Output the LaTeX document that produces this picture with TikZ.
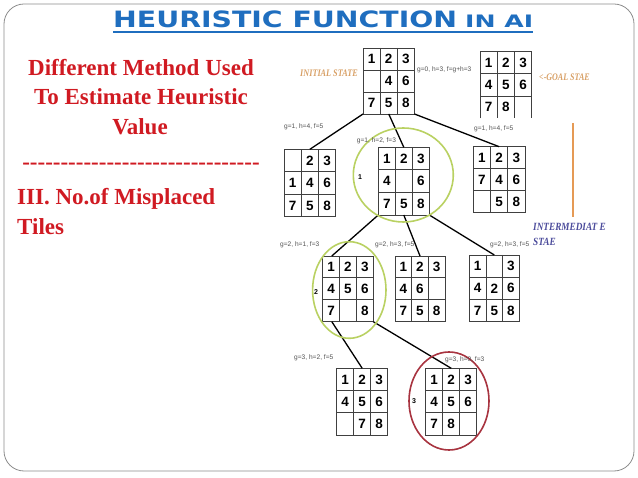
\documentclass[tikz,border=0pt]{standalone}
\usepackage{fontspec}
\usepackage{graphicx}
\setmainfont{Liberation Serif}
\newfontfamily\sansf{Liberation Sans}
\newfontfamily\titlef{DejaVu Sans}
\usetikzlibrary{calc}
\definecolor{titleblue}{HTML}{1F6EBF}
\definecolor{textred}{HTML}{D01A22}
\definecolor{labelgray}{HTML}{505050}
\definecolor{gridgray}{HTML}{404040}
\definecolor{tanlabel}{HTML}{D8A066}
\definecolor{navylabel}{HTML}{4B4B9B}
\definecolor{greenring}{HTML}{B9D162}
\definecolor{redring}{HTML}{A83440}
\definecolor{orangeline}{HTML}{E59A55}
\definecolor{framegray}{HTML}{8C8C8C}
\tikzset{
  gridbox/.style={draw=gridgray, line width=0.9pt, inner sep=0pt, outer sep=0pt},
  goalbox/.style={inner sep=0pt, outer sep=0pt},
  gridline/.style={draw=gridgray, line width=0.9pt},
  digit/.style={font=\sansf\bfseries\fontsize{13.5}{14}\selectfont, inner sep=0pt},
  costlabel/.style={font=\sansf\fontsize{6.6}{7}\selectfont, text=labelgray, inner sep=0pt, anchor=west},
  steplabel/.style={font=\sansf\bfseries\fontsize{7}{8}\selectfont, inner sep=0pt},
  bigred/.style={font=\bfseries\fontsize{23}{26}\selectfont, text=textred, inner sep=0pt},
  conn/.style={draw=black, line width=1.3pt},
  ring/.style={line width=1.6pt},
}
\def\blankcell{0}
\def\hy{-{}}
\newcommand\puzrow[5]{%
  \foreach \d [count=\c from 0] in {#5}{%
    \ifx\d\blankcell\else
      \node[digit] at ($(#1.north west)+({(\c+0.5)*#2/3},{(#4+0.5)*#3/3})$) {\d};
    \fi}}
\newcommand\puzzle[9]{%
  \node[#1, minimum width=#5pt, minimum height=#6pt, anchor=north west] (#2) at (#3,#4) {};
  \draw[gridline] ($(#2.north west)!1/3!(#2.north east)$) -- ($(#2.south west)!1/3!(#2.south east)$);
  \draw[gridline] ($(#2.north west)!2/3!(#2.north east)$) -- ($(#2.south west)!2/3!(#2.south east)$);
  \draw[gridline] ($(#2.north west)!1/3!(#2.south west)$) -- ($(#2.north east)!1/3!(#2.south east)$);
  \draw[gridline] ($(#2.north west)!2/3!(#2.south west)$) -- ($(#2.north east)!2/3!(#2.south east)$);
  \puzrow{#2}{#5}{#6}{0}{#7}
  \puzrow{#2}{#5}{#6}{1}{#8}
  \puzrow{#2}{#5}{#6}{2}{#9}
}
\begin{document}
\begin{tikzpicture}[x=1pt, y=-1pt]
\useasboundingbox (0,0) rectangle (638,478);
% frame
\draw[framegray, line width=0.8pt, rounded corners=20pt] (4,4) rectangle (634,471);
% title
\node[inner sep=0pt, anchor=south west, text=titleblue] (t1) at (113,27.7)
  {\resizebox{344pt}{16.7pt}{\titlef\bfseries HEURISTIC FUNCTION}};
\node[inner sep=0pt, anchor=south west, text=titleblue] (t2) at (465,27.7)
  {\resizebox{68pt}{12.5pt}{\titlef\bfseries IN AI}};
\draw[titleblue, line width=1.8pt] ($(t1.south west)+(0,4)$) -- ($(t2.south east)+(0,4)$);
% left text
\node[bigred, anchor=base] (m1) at (141,76) {Different Method Used};
\node[bigred, anchor=base] (m2) at (141,105) {To Estimate Heuristic};
\node[bigred, anchor=base] (m3) at (140,134.3) {Value};
\node[bigred, anchor=base] (m4) at (141,169.5) {\hy\hy\hy\hy\hy\hy\hy\hy\hy\hy\hy\hy\hy\hy\hy\hy\hy\hy\hy\hy\hy\hy\hy\hy\hy\hy\hy\hy\hy\hy\hy};
\node[bigred, anchor=base west] (m5) at (17,204.3) {III. No.of Misplaced};
\node[bigred, anchor=base west] (m6) at (17,234.3) {Tiles};
% puzzles
\puzzle{gridbox}{n0}{363}{48}{51.5}{66}{1,2,3}{0,4,6}{7,5,8}
\puzzle{goalbox}{goal}{480}{51.5}{51.7}{67}{1,2,3}{4,5,6}{7,8,0}
\draw[gridline] (goal.south west) -- (goal.north west) -- (goal.north east) -- (goal.south east);
\puzzle{gridbox}{n1l}{284}{149.3}{51.7}{67.4}{0,2,3}{1,4,6}{7,5,8}
\puzzle{gridbox}{n1m}{378.3}{147.3}{51}{67.7}{1,2,3}{4,0,6}{7,5,8}
\puzzle{gridbox}{n1r}{473.3}{146.7}{51.7}{66}{1,2,3}{7,4,6}{0,5,8}
\puzzle{gridbox}{n2l}{322.7}{256}{50.6}{65.7}{1,2,3}{4,5,6}{7,0,8}
\puzzle{gridbox}{n2m}{395}{256}{50}{65.7}{1,2,3}{4,6,0}{7,5,8}
\puzzle{gridbox}{n2r}{469.3}{255}{50}{66.7}{1,0,3}{4,2,6}{7,5,8}
\puzzle{gridbox}{n3l}{336.7}{368.3}{51}{66.7}{1,2,3}{4,5,6}{0,7,8}
\puzzle{gridbox}{n3r}{425.7}{368.3}{51}{66.7}{1,2,3}{4,5,6}{7,8,0}
% connectors
\draw[conn] (n0.south west) -- (n1l.north);
\draw[conn] (n0.south) -- (n1m.north);
\draw[conn] (n0.south east) -- (n1r.north);
\draw[conn] (n1m.south west) -- ($(n2l.north west)!0.18!(n2l.north east)$);
\draw[conn] (n1m.south) -- (n2m.north);
\draw[conn] (n1m.south east) -- (n2r.north);
\draw[conn] ($(n2l.south west)!0.18!(n2l.south east)$) -- (n3l.north);
\draw[conn] (n2l.south east) -- (n3r.north);
% rings
\draw[ring, greenring] (403.3,175) ellipse [x radius=50, y radius=47];
\draw[ring, greenring] (349.3,290) ellipse [x radius=36.7, y radius=48.3];
\draw[ring, redring] (449,401) ellipse [x radius=40, y radius=49];
% cost labels
\node[costlabel] (c0) at (417,70) {g=0, h=3, f=g+h=3};
\node[costlabel] (c1) at (284,127) {g=1, h=4, f=5};
\node[costlabel] (c2) at (356.7,140.7) {g=1, h=2, f=3};
\node[costlabel] (c3) at (474,128.3) {g=1, h=4, f=5};
\node[costlabel] (c4) at (280,245) {g=2, h=1, f=3};
\node[costlabel] (c5) at (375,245) {g=2, h=3, f=5};
\node[costlabel] (c6) at (490,245) {g=2, h=3, f=5};
\node[costlabel] (c7) at (294,357.3) {g=3, h=2, f=5};
\node[costlabel] (c8) at (445,359.3) {g=3, h=0, f=3};
% step numbers
\node[steplabel] (s1) at (360,176.7) {1};
\node[steplabel] (s2) at (316,291.7) {2};
\node[steplabel] (s3) at (414,401) {3};
% state labels
\node[inner sep=0pt, anchor=west, text=tanlabel] (initl) at (300,73)
  {\scalebox{0.82}[1]{\bfseries\itshape\fontsize{10}{11}\selectfont INITIAL STATE}};
\node[inner sep=0pt, anchor=west, text=tanlabel] (goall) at (539,77)
  {\scalebox{0.8}[1]{\bfseries\itshape\fontsize{10}{11}\selectfont <-GOAL STAE}};
\node[inner sep=0pt, anchor=west, text=navylabel] (interl) at (533,226.7)
  {\scalebox{0.84}[1]{\bfseries\itshape\fontsize{11}{12}\selectfont INTERMEDIAT E}};
\node[inner sep=0pt, anchor=west, text=navylabel] (interl2) at (533,241.7)
  {\scalebox{0.84}[1]{\bfseries\itshape\fontsize{11}{12}\selectfont STAE}};
% orange marker
\draw[orangeline, line width=2.5pt] (573,123) -- (573,217);
\end{tikzpicture}
\end{document}
